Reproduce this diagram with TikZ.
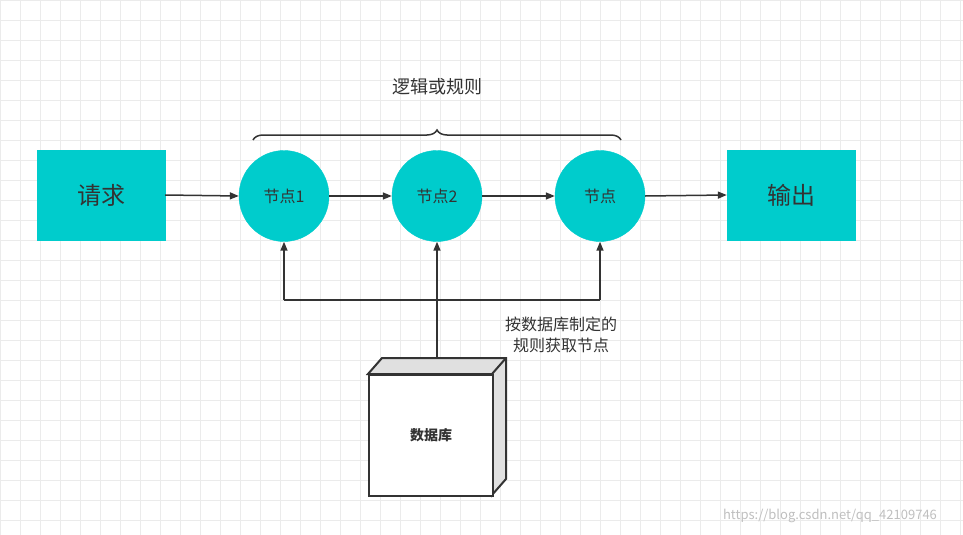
\documentclass[tikz,border=0pt]{standalone}
\usepackage{fontspec}
\setmainfont{Noto Sans CJK SC}
\usetikzlibrary{arrows.meta,decorations.pathreplacing,shapes.geometric}
\definecolor{tq}{RGB}{0,204,204}
\definecolor{txt}{RGB}{51,51,51}
\begin{document}
\begin{tikzpicture}[x=1pt,y=-1pt,
  box/.style={draw=tq,fill=tq,minimum width=128pt,minimum height=90pt,font=\fontsize{24}{28}\selectfont,text=txt},
  circ/.style={draw=tq,fill=tq,ellipse,minimum width=90pt,minimum height=91pt,inner sep=0pt,font=\fontsize{16}{18}\selectfont,text=txt},
  arr/.style={draw=txt,line width=1.5pt,-{Triangle[length=9pt,width=7pt]}},
  lbl/.style={text=txt,font=\fontsize{16}{20}\selectfont,align=center}]
\useasboundingbox (0,0) rectangle (963,535);
\fill[white] (0,0) rectangle (963,535);
\foreach \x in {0,20,...,960} \draw[black!8,line width=0.5pt] (\x,0) -- (\x,535);
\foreach \y in {0,20,...,530} \draw[black!8,line width=0.5pt] (0,\y) -- (963,\y);
\node[box] (req) at (101,195) {请求};
\node[box] (out) at (791,195) {输出};
\node[circ] (n1) at (284,196) {节点1};
\node[circ] (n2) at (437,196) {节点2};
\node[circ] (n3) at (600,196) {节点};
\draw[arr] (req.east) -- (n1.west);
\draw[arr] (n1.east) -- (n2.west);
\draw[arr] (n2.east) -- (n3.west);
\draw[arr] (n3.east) -- (out.west);
\draw[txt,line width=1.5pt,decorate,decoration={brace,amplitude=10pt}] (253,140) -- (621,140);
\node[lbl,font=\fontsize{18}{22}\selectfont] (t) at (437,87) {逻辑或规则};
% database
\coordinate (a) at (368,374);
\draw[txt,line width=2pt,fill=black!12] (368,374) -- (382,358) -- (506,358) -- (506,479) -- (492,495) -- (492,374) -- cycle;
\draw[txt,line width=2pt] (492,374) -- (506,358);
\node[draw=txt,line width=2pt,fill=white,minimum width=124pt,minimum height=121pt,anchor=north west,font=\bfseries\fontsize{14}{16}\selectfont,text=txt] (db) at (368,374) {数据库};
\coordinate (dbt) at (437,358);
\coordinate (c1) at (284,300);
\coordinate (c3) at (600,300);
\draw[arr] (dbt) -- (n2.south);
\draw[txt,line width=1.5pt] (c1) -- (c3);
\draw[arr] (c1) -- (n1.south);
\draw[arr] (c3) -- (n3.south);
\node[lbl,font=\fontsize{16}{21}\selectfont] (rl) at (561,335) {按数据库制定的\\规则获取节点};
\node[text=black!25,font=\fontsize{13}{15}\selectfont] (wm) at (830,516) {https://blog.csdn.net/qq\_42109746};
\end{tikzpicture}
\end{document}
